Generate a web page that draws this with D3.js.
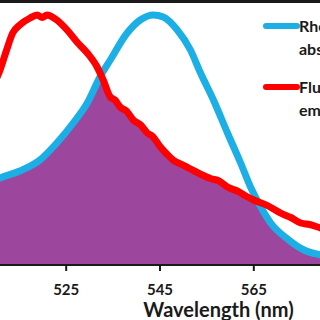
<!DOCTYPE html>
<html>
<head>
<meta charset="utf-8">
<script src="https://cdn.jsdelivr.net/npm/d3@7"></script>
<style>
  body { margin: 0; background: #fff; }
  svg { display: block; }
  text { font-family: Lato, "Open Sans", sans-serif; font-weight: bold; fill: #1a1a1a; }
</style>
</head>
<body>
<div id="chart"></div>
<script>
// absorption (blue)
var absWave = [509, 511, 515.2, 519.5, 523.1, 526.6, 529.6, 532.3, 534.5, 538.1, 540.9, 543.7,
               545.8, 548.8, 551.6, 553.7, 556.5, 559.5, 562.3, 564.4, 566.6, 568.7, 572.3, 575.8, 579.4, 582];
var absVal  = [0.33, 0.348, 0.376, 0.42, 0.488, 0.568, 0.648, 0.752, 0.82, 0.928, 0.98, 1.0,
               0.992, 0.94, 0.86, 0.77, 0.66, 0.528, 0.408, 0.312, 0.232, 0.168, 0.104, 0.06, 0.04, 0.03];

// emission (red), noisy trace
var emWave = [509, 511, 512.4, 513.7, 515.2, 517.4, 518.9, 520, 521, 523.1, 525.3, 527.4, 529.6,
              531.7, 533, 534.5, 535.5, 536.6, 538, 539.4, 541, 542.4, 543.5, 545.2, 546.5, 547.9,
              550, 551.5, 553.7, 556, 557.5, 559.5, 562, 563.5, 565.1, 568, 569.5, 570.8, 573,
              575.1, 577, 579.4, 582];
var emVal  = [0.7, 0.78, 0.86, 0.928, 0.96, 0.988, 1.0, 0.99, 1.0, 0.98, 0.94, 0.892, 0.848,
              0.792, 0.74, 0.672, 0.66, 0.632, 0.615, 0.58, 0.56, 0.528, 0.515, 0.472, 0.445, 0.42,
              0.4, 0.385, 0.364, 0.345, 0.338, 0.312, 0.292, 0.275, 0.26, 0.238, 0.222, 0.208, 0.19,
              0.168, 0.162, 0.148, 0.14];

var tickVals = [525, 545, 565];
var legendNames = [["Rhodamine", "absorption"], ["Fluorescein", "emission"]];
var colors = ["#1cafe6", "#ff0000"];
var fillColor = "#9c469e";

var width = 320, height = 320;

var x = d3.scaleLinear().domain([525, 565]).range([65.7, 253.3]);
var y = d3.scaleLinear().domain([0, 1]).range([265, 15]);

var svg = d3.select("#chart").append("svg")
    .attr("width", width)
    .attr("height", height);

var absData = absWave.map(function (w, i) { return {w: w, v: absVal[i]}; });
var emData = emWave.map(function (w, i) { return {w: w, v: emVal[i]}; });

var area = d3.area()
    .x(function (d) { return x(d.w); })
    .y0(y(0))
    .y1(function (d) { return y(d.v); })
    .curve(d3.curveMonotoneX);

var line = d3.line()
    .x(function (d) { return x(d.w); })
    .y(function (d) { return y(d.v); })
    .curve(d3.curveMonotoneX);

// overlap = area under blue clipped by area under red
svg.append("clipPath").attr("id", "underEm")
    .append("path").attr("d", area(emData));

svg.append("path")
    .attr("d", area(absData))
    .attr("fill", fillColor)
    .attr("clip-path", "url(#underEm)");

svg.append("path")
    .attr("d", line(absData))
    .attr("fill", "none")
    .attr("stroke", colors[0])
    .attr("stroke-width", 7);

svg.append("path")
    .attr("d", line(emData))
    .attr("fill", "none")
    .attr("stroke", colors[1])
    .attr("stroke-width", 7)
    .attr("stroke-linejoin", "round");

// x axis
var axis = svg.append("g")
    .attr("transform", "translate(0," + y(0) + ")")
    .call(d3.axisBottom(x).tickValues(tickVals).tickSize(6).tickSizeOuter(0).tickPadding(13)
        .tickFormat(d3.format("d")));
axis.select(".domain").attr("d", "M0,0H" + width).attr("stroke", "#1a1a1a").attr("stroke-width", 2);
axis.selectAll(".tick line").attr("stroke", "#1a1a1a").attr("stroke-width", 2);
axis.selectAll(".tick text").style("font-size", "15px").attr("fill", "#1a1a1a");

svg.append("text")
    .attr("x", 218.5)
    .attr("y", 317)
    .attr("text-anchor", "middle")
    .style("font-size", "20px")
    .text("Wavelength (nm)");

// legend
var legendY = [26, 87];
legendNames.forEach(function (names, i) {
    svg.append("line")
        .attr("x1", 266).attr("x2", 297)
        .attr("y1", legendY[i]).attr("y2", legendY[i])
        .attr("stroke", colors[i])
        .attr("stroke-width", 6)
        .attr("stroke-linecap", "round");
    svg.append("text").attr("x", 299).attr("y", legendY[i] + 6)
        .style("font-size", "16px").text(names[0]);
    svg.append("text").attr("x", 299).attr("y", legendY[i] + 29)
        .style("font-size", "16px").text(names[1]);
});

// dark strip along the top edge
svg.append("rect")
    .attr("x", 0).attr("y", 0)
    .attr("width", width).attr("height", 3)
    .attr("fill", "#1a1a1a");
</script>
</body>
</html>
